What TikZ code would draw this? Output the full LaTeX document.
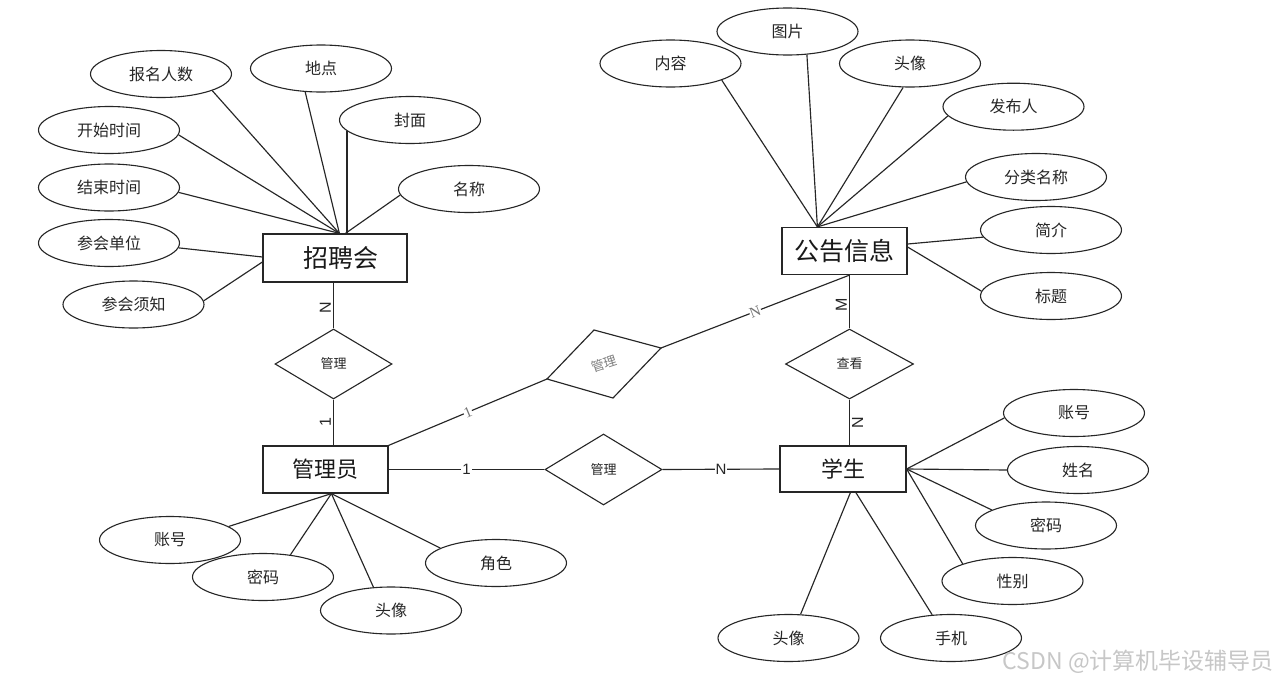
\documentclass[tikz,border=0pt]{standalone}
\usepackage{fontspec}
\setmainfont{Liberation Sans}
\newfontfamily\cjk{Noto Sans CJK SC}
\newfontfamily\serifx{Liberation Serif}
\usetikzlibrary{shapes.geometric,calc}
\begin{document}
\begin{tikzpicture}[x=1pt,y=-1pt,
  every node/.style={inner sep=0pt},
  ln/.style={draw=black!85, line width=1.15pt},
  ent/.style={draw=black!85, line width=1.2pt, rectangle, fill=white, text=black!90},
  attr/.style={draw=black!85, line width=1.1pt, ellipse, minimum width=141pt, minimum height=47pt, text=black!85, font=\cjk\fontsize{16}{18}\selectfont},
  rel/.style={draw=black!85, line width=1.1pt, diamond, minimum width=117pt, minimum height=70pt, text=black!85, font=\cjk\fontsize{13}{15}\selectfont},
  card/.style={font=\fontsize{15}{17}\selectfont, fill=white, inner sep=1pt, text=black!85},
  vcard/.style={font=\fontsize{16}{18}\selectfont, rotate=90, inner sep=2pt, text=black!85},
  scard/.style={font=\serifx\fontsize{15}{17}\selectfont, text=black!55, fill=white, inner sep=0.5pt, sloped},
]
\fill[white] (0,0) rectangle (1278,683);
\useasboundingbox (0,0) rectangle (1278,683);

% entities
\node[ent, minimum width=144pt, minimum height=48pt, font=\cjk\fontsize{25}{28}\selectfont] (zph) at (335,258) {\hspace*{12pt}招聘会};
\node[ent, minimum width=125pt, minimum height=47pt, font=\cjk\fontsize{25}{28}\selectfont] (ggxx) at (844.5,251) {公告信息};
\node[ent, minimum width=125pt, minimum height=47pt, font=\cjk\fontsize{22}{25}\selectfont] (gly) at (325.5,469.5) {管理员};
\node[ent, minimum width=126pt, minimum height=46pt, font=\cjk\fontsize{22}{25}\selectfont] (xs) at (843,469) {学生};

% relations
\node[rel] (r1) at (333.5,364) {管理};
\node[rel, minimum width=128pt] (r2) at (849.5,364) {查看};
\node[rel, minimum height=71pt] (r3) at (603.5,469.5) {管理};
\coordinate (p1) at (547,379);
\coordinate (p2) at (594,330);
\coordinate (p3) at (661,348);
\coordinate (p4) at (613,398);
\draw[ln, fill=white] (p1) -- (p2) -- (p3) -- (p4) -- cycle;
\node[font=\cjk\fontsize{13}{15}\selectfont, text=black!50, rotate=18] (r4) at (604,364) {管理};

% attributes of 招聘会
\node[attr] (a1) at (161,74) {报名人数};
\node[attr] (a2) at (321,68.5) {地点};
\node[attr] (a3) at (410,120) {封面};
\node[attr] (a4) at (109,130) {开始时间};
\node[attr] (a5) at (469,189) {名称};
\node[attr] (a6) at (109,187.5) {结束时间};
\node[attr] (a7) at (109,243) {参会单位};
\node[attr] (a8) at (133.5,304.5) {参会须知};
\coordinate (zA) at ($(zph.north west)+(77,0)$);
\coordinate (zB) at ($(zph.north west)+(83,0)$);
\draw[ln] (a1.-18) -- (zA);
\draw[ln] (a2.236) -- (zA);
\draw[ln] (a4.-4) -- (zA);
\draw[ln] (a6.-4) -- (zA);
\draw[ln] (a3.190) -- (a3.190 |- zph.north);
\draw[ln] (a5.185) -- (zB);
\draw[ln] (a7.-4) -- ($(zph.west)+(0,-1)$);
\draw[ln] (a8.3) -- ($(zph.west)+(0,4)$);

% attributes of 公告信息
\node[attr] (b1) at (670.5,63.5) {内容};
\node[attr] (b2) at (787.5,31.5) {图片};
\node[attr] (b3) at (910,63.5) {头像};
\node[attr] (b4) at (1013.5,106.7) {发布人};
\node[attr] (b5) at (1036,177) {分类名称};
\node[attr] (b6) at (1051,230) {简介};
\node[attr] (b7) at (1051,296) {标题};
\coordinate (zC) at ($(ggxx.north west)+(36,0)$);
\draw[ln] (b1.-18.4) -- (zC);
\draw[ln] (b2.-50.6) -- (zC);
\draw[ln] (b3.254) -- (zC);
\draw[ln] (b4.188.6) -- (zC);
\draw[ln] (b5.184) -- (zC);
\draw[ln] (b6.186) -- ($(ggxx.east)+(0,-7)$);
\draw[ln] (b7.176.5) -- ($(ggxx.east)+(0,-4)$);

% attributes of 管理员
\node[attr] (c1) at (170,540) {账号};
\node[attr] (c2) at (263,577) {密码};
\node[attr] (c3) at (391,610.5) {头像};
\node[attr] (c4) at (496,563) {角色};
\coordinate (zD) at ($(gly.south west)+(69,0)$);
\draw[ln] (c1.13.8) -- (zD);
\draw[ln] (c2.39) -- (zD);
\draw[ln] (c3.127.5) -- (zD);
\draw[ln] (c4.165) -- (zD);

% attributes of 学生
\node[attr] (s1) at (1074,413) {账号};
\node[attr] (s2) at (1078,470) {姓名};
\node[attr] (s3) at (1046,525.5) {密码};
\node[attr] (s4) at (1012.5,581) {性别};
\node[attr] (s5) at (788.5,638) {头像};
\node[attr] (s6) at (951,638) {手机};
\draw[ln] (s1.184.4) -- (xs.east);
\draw[ln] (s2.180) -- (xs.east);
\draw[ln] (s3.164.8) -- (xs.east);
\draw[ln] (s4.161.6) -- (xs.east);
\draw[ln] (s5.63.4) -- ($(xs.south west)+(71,0)$);
\draw[ln] (s6.129.6) -- ($(xs.south west)+(76.5,0)$);

% relationship connectors
\draw[ln] (r1.north |- zph.south) -- (r1.north) node[vcard, anchor=south, pos=0.55] (l1) {N};
\draw[ln] (r1.south) -- (r1.south |- gly.north) node[vcard, anchor=south, pos=0.5] (l2) {1};
\draw[ln] (r2.north |- ggxx.south) -- (r2.north) node[vcard, anchor=south, pos=0.55] (l3) {M};
\draw[ln] (r2.south) -- (r2.south |- xs.north) node[vcard, anchor=north, pos=0.5] (l4) {N};
\draw[ln] (gly.east) -- (r3.west) node[card, midway] (l5) {1};
\draw[ln] (r3.east) -- (xs.west) node[card, midway] (l6) {N};
\draw[ln] (gly.north east) -- (p1) node[scard, pos=0.5] (l7) {1};
\draw[ln] (p3) -- (r2.north |- ggxx.south) node[scard, pos=0.5] (l8) {N};

% watermark
\node[font=\cjk\fontsize{23}{26}\selectfont, text=black!22, anchor=east] (wm) at (1274,662) {CSDN @计算机毕设辅导员};
\end{tikzpicture}
\end{document}
